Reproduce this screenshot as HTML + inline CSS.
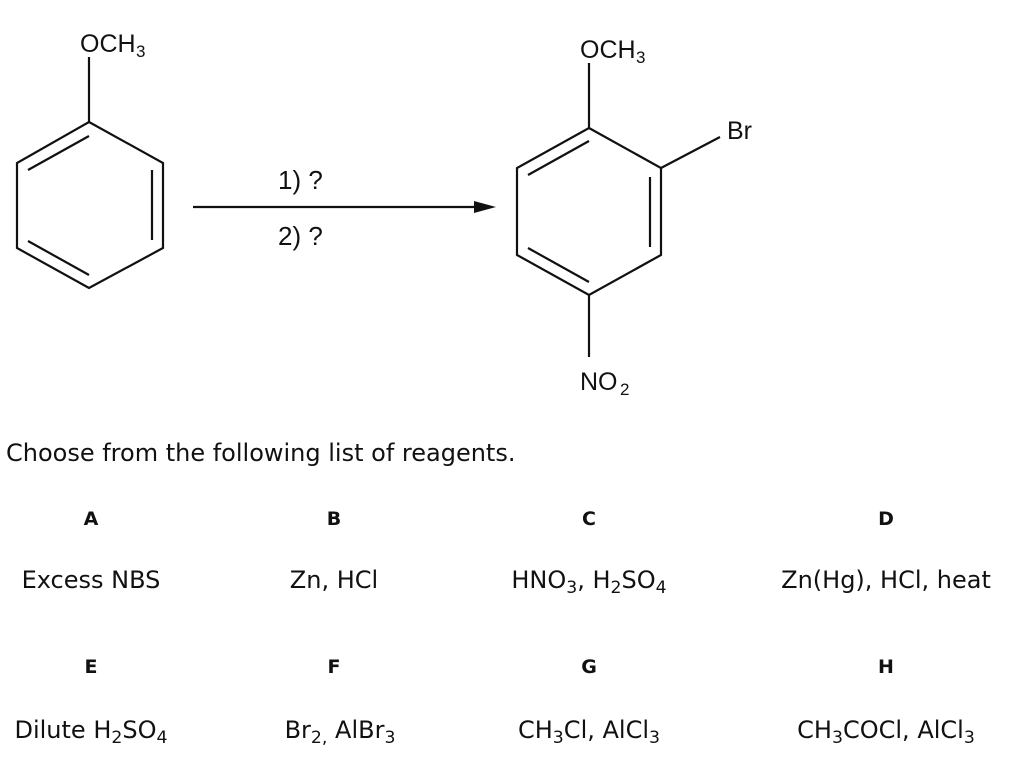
<!DOCTYPE html>
<html><head><meta charset="utf-8"><style>
html,body{margin:0;padding:0;background:#fff;}
body{width:1024px;height:769px;position:relative;overflow:hidden;}
.t{position:absolute;font-family:"DejaVu Sans","Liberation Sans",sans-serif;font-size:24px;color:#111;white-space:nowrap;transform:translateX(-50%);}
.h{font-weight:bold;font-size:19px;}
sub{font-size:0.72em;vertical-align:-0.3em;line-height:0;}
</style></head><body>
<svg width="1024" height="430" style="position:absolute;left:0;top:0" font-family="Liberation Sans, Arial, sans-serif">
<g stroke="#111" stroke-width="2.2" fill="none">
<polygon points="89,122 163,163 163,248 89,288 17,248 17,163"/>
<line x1="89" y1="57" x2="89" y2="122"/>
<line x1="28" y1="170" x2="89" y2="136"/>
<line x1="152" y1="170" x2="152" y2="240"/>
<line x1="28" y1="241" x2="89" y2="275"/>
<line x1="193" y1="207" x2="478" y2="207"/>
<polygon points="589,128 661,168 661,255 589,295 517,255 517,168"/>
<line x1="589" y1="63" x2="589" y2="128"/>
<line x1="528" y1="175" x2="589" y2="141"/>
<line x1="650" y1="177" x2="650" y2="247"/>
<line x1="528" y1="248" x2="589" y2="282"/>
<line x1="661" y1="168" x2="720" y2="137"/>
<line x1="589" y1="295" x2="589" y2="357"/>
</g>
<polygon points="496,207 474,201 474,213" fill="#111"/>
<g fill="#111" font-size="25">
<text x="80" y="52">OCH</text><text x="136" y="57" font-size="17">3</text>
<text x="580" y="58">OCH</text><text x="636" y="63" font-size="17">3</text>
<text x="727" y="139">Br</text>
<text x="580" y="390">NO</text><text x="620" y="395" font-size="17">2</text>
<text x="278" y="189" font-size="26">1) ?</text>
<text x="278" y="245" font-size="26">2) ?</text>
</g>
</svg>
<div class="t" style="left:6px;top:439px;transform:none;">Choose from the following list of reagents.</div>
<div class="t h" style="left:91px;top:508px;">A</div>
<div class="t h" style="left:334px;top:508px;">B</div>
<div class="t h" style="left:589px;top:508px;">C</div>
<div class="t h" style="left:886px;top:508px;">D</div>
<div class="t" style="left:91px;top:566px;">Excess NBS</div>
<div class="t" style="left:334px;top:566px;">Zn, HCl</div>
<div class="t" style="left:589px;top:566px;">HNO<sub>3</sub>, H<sub>2</sub>SO<sub>4</sub></div>
<div class="t" style="left:886px;top:566px;">Zn(Hg), HCl, heat</div>
<div class="t h" style="left:91px;top:656px;">E</div>
<div class="t h" style="left:334px;top:656px;">F</div>
<div class="t h" style="left:589px;top:656px;">G</div>
<div class="t h" style="left:886px;top:656px;">H</div>
<div class="t" style="left:91px;top:716px;">Dilute H<sub>2</sub>SO<sub>4</sub></div>
<div class="t" style="left:340px;top:716px;">Br<sub>2,</sub> AlBr<sub>3</sub></div>
<div class="t" style="left:589px;top:716px;">CH<sub>3</sub>Cl, AlCl<sub>3</sub></div>
<div class="t" style="left:886px;top:716px;">CH<sub>3</sub>COCl, AlCl<sub>3</sub></div>
</body></html>
